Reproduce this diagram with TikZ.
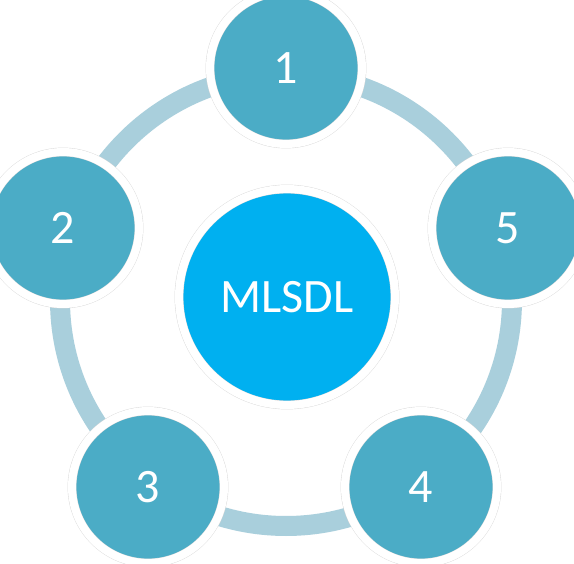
\documentclass[tikz,border=0pt]{standalone}
\usepackage{fontspec}
\setmainfont{Carlito}
\definecolor{ringc}{HTML}{A9CFDC}
\definecolor{smallc}{HTML}{4BACC6}
\definecolor{bigc}{HTML}{00B0F0}
\begin{document}
\begin{tikzpicture}[x=1pt,y=-1pt,
  every node/.style={text=white, font=\fontsize{48}{58}\selectfont},
  stage/.style={circle, fill=smallc, draw=black!15, line width=0.4pt, double=white, double distance=8pt, minimum size=152pt, inner sep=0pt},
  hub/.style={circle, fill=bigc, draw=black!15, line width=0.4pt, double=white, double distance=8pt, minimum size=216pt, inner sep=0pt}]
\useasboundingbox (0,0) rectangle (574,564);
\coordinate (c) at (286,300);
\draw[white, line width=22pt] (c) circle (226);
\draw[ringc, line width=20pt] (c) circle (226);
\node[hub] (m) at (287,297) {MLSDL};
\node[stage] (n1) at (286,68) {1};
\node[stage] (n2) at (63,228) {2};
\node[stage] (n3) at (148,487) {3};
\node[stage] (n4) at (421,487) {4};
\node[stage] (n5) at (508,228) {5};
\end{tikzpicture}
\end{document}
